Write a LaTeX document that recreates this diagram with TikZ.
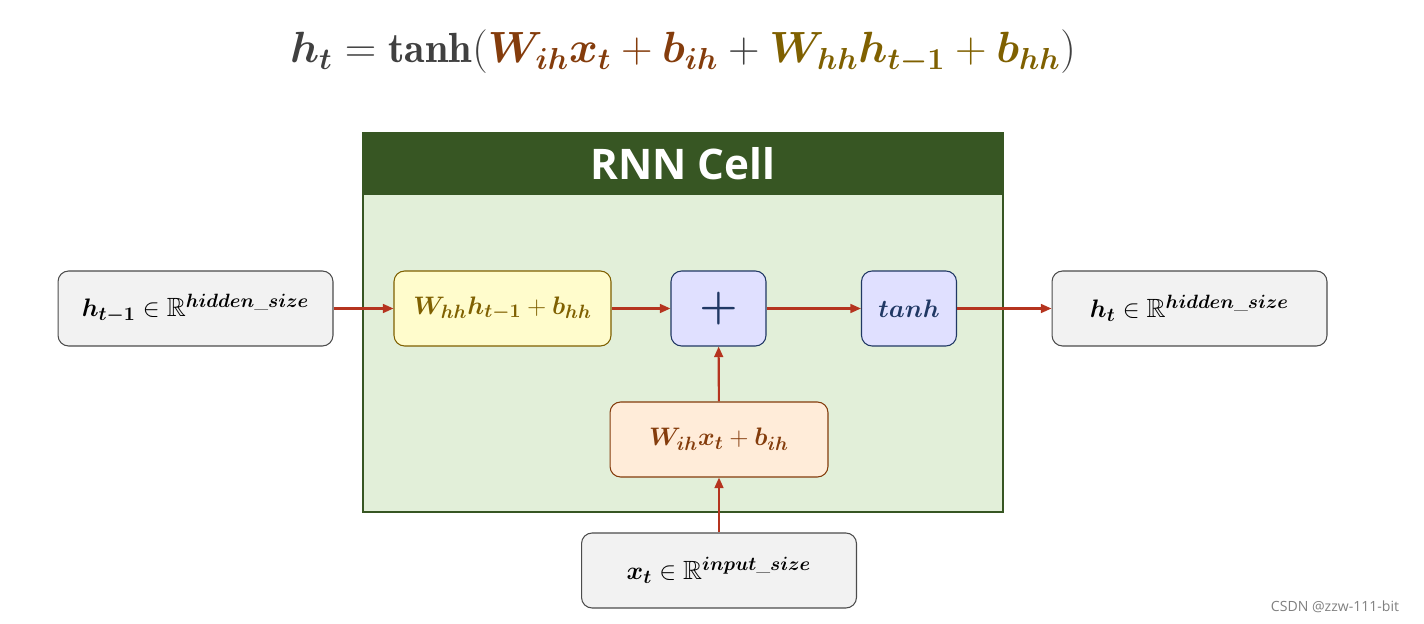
\documentclass[tikz,border=0pt]{standalone}
\usepackage{amsmath,amssymb,bm}
\usepackage{fontspec}
\newfontfamily\sansfont{Open Sans}
\usetikzlibrary{positioning,arrows.meta}
\definecolor{cellgreen}{HTML}{375623}
\definecolor{cellfill}{HTML}{E2EFD9}
\definecolor{olive}{HTML}{7F6000}
\definecolor{rust}{HTML}{843C0C}
\definecolor{navy}{HTML}{203864}
\definecolor{arrowred}{HTML}{B5341F}
\begin{document}
\begin{tikzpicture}[x=0.02cm,y=-0.02cm,
    box/.style={draw, rounded corners=6pt, minimum height=1.5cm, line width=0.6pt,
      font=\fontsize{15}{18}\selectfont},
    io/.style={box, fill=gray!10, draw=gray!60!black, minimum width=5.5cm},
    flow/.style={->, >={Triangle[length=6pt,width=5pt]}, arrowred, line width=1.2pt}]
  \useasboundingbox (0,0) rectangle (1424,624);
  % formula
  \node (eq) at (683,52) {\fontsize{24}{28}\selectfont
    $\color{black!75}\bm{h_t}=\mathbf{tanh}(\color{rust}\bm{W_{ih}x_t}+\bm{b_{ih}}
    \color{black!75}+\color{olive}\bm{W_{hh}h_{t-1}}+\bm{b_{hh}}\color{black!75})$};
  % cell
  \draw[cellgreen, fill=cellfill, line width=1.5pt] (363,133) rectangle (1003,512);
  \fill[cellgreen] (363,133) rectangle (1003,195);
  \node[text=white, font=\sansfont\bfseries\fontsize{24}{28}\selectfont] (title) at (683,164) {RNN Cell};
  % nodes
  \node[io] (hprev) at (195.5,308.5) {$\bm{h_{t-1}}\in\mathbb{R}^{\bm{hidden\_size}}$};
  \node[box, fill=yellow!20, draw=olive, text=olive, minimum width=4.34cm] (whh) at (502.5,308.5)
    {$\bm{W_{hh}h_{t-1}}+\bm{b_{hh}}$};
  \node[box, fill=blue!12, draw=navy, text=navy, minimum width=1.9cm, font=\fontsize{28}{30}\selectfont] (plus) at (718.5,308.5) {$\bm{+}$};
  \node[box, fill=blue!12, draw=navy, text=navy, minimum width=1.9cm] (tanh) at (909,308.5) {$\bm{tanh}$};
  \node[io] (hnext) at (1189.5,308.5) {$\bm{h_t}\in\mathbb{R}^{\bm{hidden\_size}}$};
  \node[box, fill=orange!15, draw=rust, text=rust, minimum width=4.36cm] (wih) at (719,439.5)
    {$\bm{W_{ih}x_t}+\bm{b_{ih}}$};
  \node[io] (xt) at (719,570.5) {$\bm{x_t}\in\mathbb{R}^{\bm{input\_size}}$};
  % connectors
  \draw[flow] (hprev) -- (whh);
  \draw[flow] (whh) -- (plus);
  \draw[flow] (plus) -- (tanh);
  \draw[flow] (tanh) -- (hnext);
  \draw[flow] (wih) -- (plus);
  \draw[flow] (xt) -- (wih);
  \node[gray, font=\sansfont\footnotesize] (mark) at (1335,607) {CSDN @zzw-111-bit};
\end{tikzpicture}
\end{document}
